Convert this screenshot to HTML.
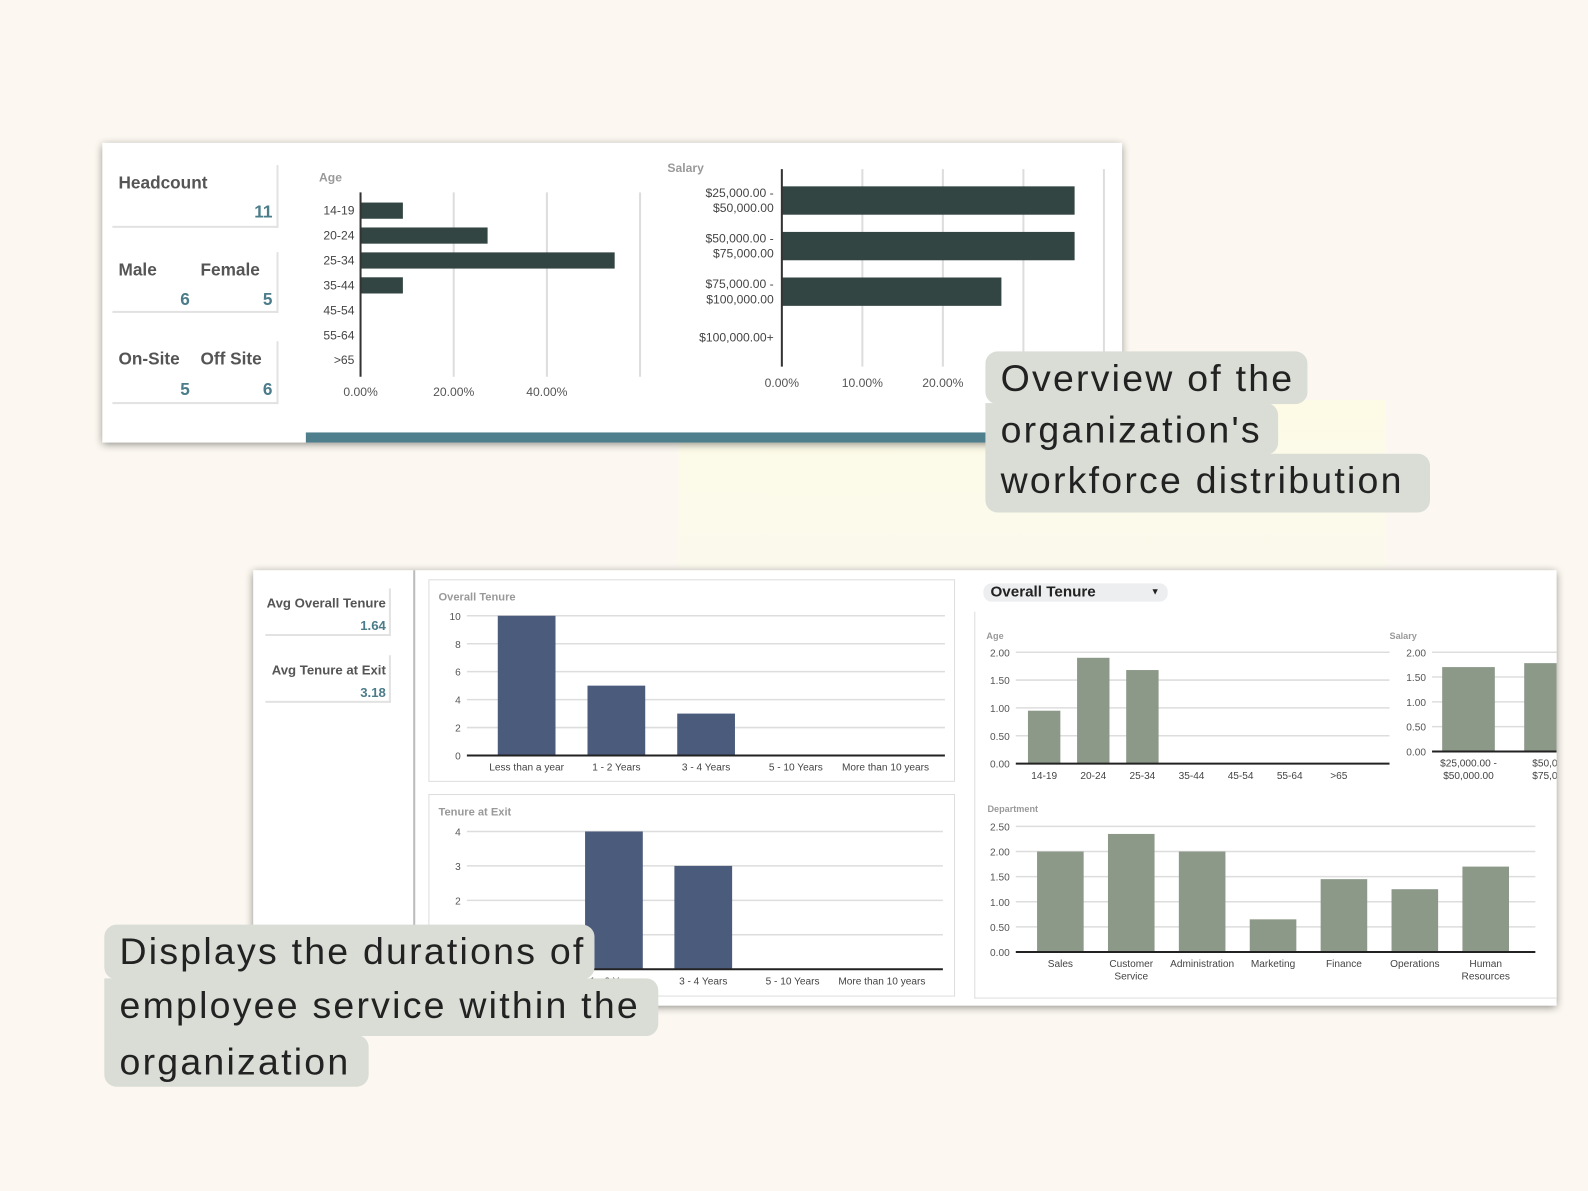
<!DOCTYPE html>
<html><head><meta charset="utf-8"><style>
html,body{margin:0;padding:0;width:1588px;height:1191px;overflow:hidden;background:#fcf8f1;font-family:"Liberation Sans",sans-serif;}
#wrap{position:absolute;left:0;top:0;width:1568px;height:1176px;transform:scale(1.01276);transform-origin:0 0;}
.abs{position:absolute;}
.panel{background:#fff;box-shadow:0 2px 8px rgba(0,0,0,0.45);}
.card{position:absolute;border-right:2px solid #e2e2e2;border-bottom:2px solid #e2e2e2;color:#555;font-weight:bold;}
.val{color:#4b7c8a;font-weight:bold;position:absolute;}
.hl{position:absolute;background:#d9ddd5;color:#222;font-size:37px;letter-spacing:2.2px;line-height:54px;padding-left:15px;border-radius:12px;white-space:nowrap;}
.box{position:absolute;border:1px solid #ddd;background:#fff;}
</style></head><body>
<div id="wrap">
<div class="abs" style="left:670px;top:395px;width:698px;height:165px;background:linear-gradient(180deg,#fdfbe6,#fbf9ec);"></div>

<div class="abs panel" style="left:101px;top:141px;width:1007px;height:296px;">
  <div class="card" style="left:10px;top:22px;width:162px;height:60px;">
    <div class="abs" style="left:6px;top:8px;font-size:17px;">Headcount</div>
    <div class="val" style="right:4px;top:37px;font-size:17px;">11</div>
  </div>
  <div class="card" style="left:10px;top:108px;width:162px;height:58px;">
    <div class="abs" style="left:6px;top:8px;font-size:17px;">Male</div>
    <div class="abs" style="left:87px;top:8px;font-size:17px;">Female</div>
    <div class="val" style="left:67px;top:37px;font-size:17px;">6</div>
    <div class="val" style="right:4px;top:37px;font-size:17px;">5</div>
  </div>
  <div class="card" style="left:10px;top:196px;width:162px;height:60px;">
    <div class="abs" style="left:6px;top:8px;font-size:17px;">On-Site</div>
    <div class="abs" style="left:87px;top:8px;font-size:17px;">Off Site</div>
    <div class="val" style="left:67px;top:38px;font-size:17px;">5</div>
    <div class="val" style="right:4px;top:38px;font-size:17px;">6</div>
  </div>
  <div class="abs" style="left:201px;top:286px;width:806px;height:10px;background:#4f7f8c;"></div>
</div>

<div class="abs panel" style="left:250px;top:563px;width:1287px;height:430px;overflow:hidden;">
  <div class="abs" style="left:158px;top:0;width:2px;height:430px;background:#bbb;"></div>
  <div class="card" style="left:12px;top:18px;width:122px;height:45px;font-size:13px;">
    <div class="abs" style="right:3px;top:7px;white-space:nowrap;">Avg Overall Tenure</div>
    <div class="val" style="right:3px;top:29px;font-size:13px;">1.64</div>
  </div>
  <div class="card" style="left:12px;top:84px;width:122px;height:45px;font-size:13px;">
    <div class="abs" style="right:3px;top:7px;white-space:nowrap;">Avg Tenure at Exit</div>
    <div class="val" style="right:3px;top:29px;font-size:13px;">3.18</div>
  </div>
  <div class="box" style="left:173px;top:9px;width:518px;height:198px;"></div>
  <div class="box" style="left:173px;top:221px;width:518px;height:198px;"></div>
  <div class="box" style="left:712px;top:41px;width:580px;height:381px;border-top:none;"></div>
  <div class="abs" style="left:721px;top:13px;width:182px;height:18px;background:#eceeef;border-radius:8px;font-size:15px;font-weight:bold;color:#222;">
    <span style="position:absolute;left:7px;top:0px;">Overall Tenure</span>
    <span style="position:absolute;right:8px;top:3px;font-size:9px;">▼</span>
  </div>
</div>

<svg id="charts" class="abs" style="left:0;top:0" width="1568" height="1176" font-family="Liberation Sans, sans-serif">
<defs><clipPath id="pclip"><rect x="0" y="0" width="1537" height="1176"/></clipPath></defs>
<g id="root" clip-path="url(#pclip)"></g>
</svg>

<div class="hl" style="left:973px;top:347px;width:303px;height:52px;line-height:54px;">Overview of the</div>
<div class="hl" style="left:973px;top:398px;width:274px;height:51px;border-radius:0 12px 12px 0;">organization's</div>
<div class="hl" style="left:973px;top:448px;width:424px;height:58px;border-radius:0 12px 12px 12px;">workforce distribution</div>

<div class="hl" style="left:103px;top:913px;width:469px;height:54px;">Displays the durations of</div>
<div class="hl" style="left:103px;top:966px;width:532px;height:57px;border-radius:0 12px 12px 0;">employee service within the</div>
<div class="hl" style="left:103px;top:1022px;width:246px;height:51px;border-radius:0 12px 12px 12px;">organization</div>
</div>

<script>
const ageCats=["14-19","20-24","25-34","35-44","45-54","55-64",">65"];
const agePct=[9.09,27.27,54.55,9.09,0,0,0];
const ageTicks=["0.00%","20.00%","40.00%"];
const salCats=[["$25,000.00 -","$50,000.00"],["$50,000.00 -","$75,000.00"],["$75,000.00 -","$100,000.00"],["$100,000.00+"]];
const salPct=[36.36,36.36,27.27,0];
const salTicks=["0.00%","10.00%","20.00%"];
const tenCats=["Less than a year","1 - 2 Years","3 - 4 Years","5 - 10 Years","More than 10 years"];
const tenVals=[10,5,3,0,0];
const exitVals=[0,4,3,0,0];
const tAgeVals=[0.95,1.9,1.68,0,0,0,0];
const tSalCats=[["$25,000.00 -","$50,000.00"],["$50,000","$75,000"]];
const tSalVals=[1.7,1.78];
const deptCats=[["Sales"],["Customer","Service"],["Administration"],["Marketing"],["Finance"],["Operations"],["Human","Resources"]];
const deptVals=[2.0,2.35,2.0,0.65,1.45,1.25,1.7];

const root=document.getElementById('root');
const NS="http://www.w3.org/2000/svg";
function el(tag,a,name,txt){const e=document.createElementNS(NS,tag);for(const k in a)e.setAttribute(k,a[k]);


if(txt!==undefined)e.textContent=txt;root.appendChild(e);return e;}

function hbar(o){
  const x=v=>o.x0+v*o.pxPer;
  el('text',{x:o.titleX,y:o.titleY,'font-size':12,fill:'#999','font-weight':'bold'},'chart-title',o.title);
  for(let i=1;i<o.gridN;i++){const gx=x(i*o.step);el('line',{x1:gx,x2:gx,y1:o.yTop,y2:o.yBot,stroke:'#ddd','stroke-width':2},'gridline');}
  o.ticks.forEach((t,i)=>el('text',{x:x(i*o.step),y:o.tickY,'font-size':12,fill:'#555','text-anchor':'middle'},'x-tick',t));
  o.cats.forEach((c,i)=>{const cy=o.c0+i*o.dc;
    if(o.vals[i]>0)el('rect',{x:o.x0,y:cy-o.bh/2,width:x(o.vals[i])-o.x0,height:o.bh,fill:'#334542'},'bar-'+i);
    const lines=Array.isArray(c)?c:[c];
    lines.forEach((l,j)=>el('text',{x:o.x0-o.lblGap,y:cy+4+(j-(lines.length-1)/2)*15,'font-size':12,fill:'#444','text-anchor':'end'},'y-label',l));
  });
  el('line',{x1:o.x0,x2:o.x0,y1:o.yTop,y2:o.yBot,stroke:'#333','stroke-width':2},'y-axis');
}
hbar({title:'Age',titleX:315,titleY:179,x0:356,pxPer:4.6,step:20,gridN:4,ticks:ageTicks,tickY:391,cats:ageCats,vals:agePct,c0:208,dc:24.6,bh:16,yTop:190,yBot:372,lblGap:6});
hbar({title:'Salary',titleX:659,titleY:170,x0:772,pxPer:7.95,step:10,gridN:5,ticks:salTicks,tickY:382,cats:salCats,vals:salPct,c0:198,dc:45,bh:28,yTop:167,yBot:362,lblGap:8});

function col(o){
  const y=v=>o.y0-v/o.max*(o.y0-o.yTop);
  el('text',{x:o.titleX,y:o.titleY,'font-size':o.tfs||11,fill:'#999','font-weight':'bold'},'chart-title',o.title);
  o.ticks.forEach(t=>{const gy=y(t);
    if(t>0)el('line',{x1:o.xL,x2:o.xR,y1:gy,y2:gy,stroke:'#ddd','stroke-width':1.5},'gridline');
    el('text',{x:o.xL-6,y:gy+4,'font-size':10,fill:'#555','text-anchor':'end'},'y-tick',o.fmt(t));});
  o.cats.forEach((c,i)=>{const cx=o.cx0+i*o.dx;
    if(o.vals[i]>0)el('rect',{x:cx-o.bw/2,y:y(o.vals[i]),width:o.bw,height:o.y0-y(o.vals[i]),fill:o.color},'bar-'+i);
    const lines=Array.isArray(c)?c:[c];
    lines.forEach((l,j)=>el('text',{x:cx,y:o.y0+15+j*12,'font-size':10,fill:'#444','text-anchor':'middle'},'x-label',l));});
  el('line',{x1:o.xL,x2:o.xR,y1:o.y0,y2:o.y0,stroke:'#222','stroke-width':2},'x-axis');
}
const f0=t=>String(t), f2=t=>t.toFixed(2);
col({title:'Overall Tenure',titleX:433,titleY:593,y0:746,yTop:608,max:10,ticks:[0,2,4,6,8,10],fmt:f0,xL:461,xR:933,cats:tenCats,vals:tenVals,cx0:520,dx:88.6,bw:57,color:'#4a5b7c'});
col({title:'Tenure at Exit',titleX:433,titleY:805,y0:957,yTop:821,max:4,ticks:[0,1,2,3,4],fmt:f0,xL:461,xR:931,cats:tenCats,vals:exitVals,cx0:518,dx:88.2,bw:57,color:'#4a5b7c'});
col({title:'Age',titleX:974,titleY:631,tfs:9,y0:754,yTop:644,max:2,ticks:[0,0.5,1,1.5,2],fmt:f2,xL:1003,xR:1372,cats:ageCats,vals:tAgeVals,cx0:1031,dx:48.5,bw:32,color:'#8c9888'});
col({title:'Salary',titleX:1372,titleY:631,tfs:9,y0:742,yTop:644,max:2,ticks:[0,0.5,1,1.5,2],fmt:f2,xL:1414,xR:1537,cats:tSalCats,vals:tSalVals,cx0:1450,dx:81,bw:52,color:'#8c9888'});
col({title:'Department',titleX:975,titleY:802,tfs:9,y0:940,yTop:816,max:2.5,ticks:[0,0.5,1,1.5,2,2.5],fmt:f2,xL:1003,xR:1516,cats:deptCats,vals:deptVals,cx0:1047,dx:70,bw:46,color:'#8c9888'});
</script>
</body></html>
